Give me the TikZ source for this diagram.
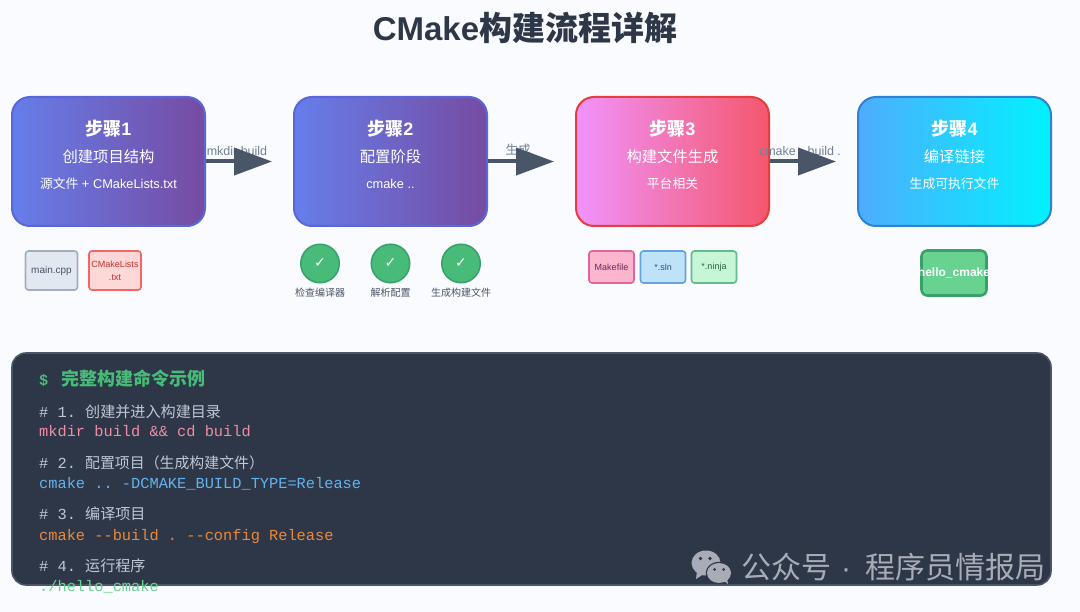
\documentclass[tikz,border=0pt]{standalone}
\usepackage{fontspec}
\setmainfont{Liberation Sans}
\setmonofont{Liberation Mono}
\newfontfamily\cjk{Noto Sans CJK SC}
\newfontfamily\ticks{DejaVu Sans}
\usetikzlibrary{arrows.meta, positioning}
\definecolor{pagebg}{HTML}{FAFBFE}
\definecolor{ink}{HTML}{2D3748}
\definecolor{slate}{HTML}{4A5568}
\definecolor{wmark}{HTML}{A8ACB6}
\tikzstyle{stepbox} = [rectangle, rounded corners=18pt, minimum width=193pt, minimum height=129pt, inner sep=0pt, line width=2pt]
\tikzstyle{filebox} = [rectangle, rounded corners=3pt, inner sep=0pt, line width=1.6pt, align=center]
\tikzstyle{arrow} = [line width=4pt, draw=slate, -{Triangle[length=38pt,width=27pt]}]
\tikzset{
	steptitle/.style={anchor=base, text=white, font=\fontsize{18}{22}\selectfont\bfseries},
	stepname/.style={anchor=base, text=white, font=\fontsize{15.3}{18}\selectfont},
	stepnote/.style={anchor=base, text=white, font=\fontsize{12.8}{15}\selectfont},
	arrowlabel/.style={text={rgb,255:red,113;green,128;blue,150}, font=\fontsize{12.5}{15}\selectfont},
	check/.style={circle, minimum size=38.5pt, inner sep=0pt, draw={rgb,255:red,56;green,161;blue,105}, line width=1.5pt, fill={rgb,255:red,72;green,187;blue,120}, text=white, font=\ticks\fontsize{14}{14}\selectfont},
	checklabel/.style={text=slate, font=\cjk\fontsize{10}{12}\selectfont},
	code/.style={anchor=base west, inner sep=0pt, font=\ttfamily\fontsize{15.33}{18}\selectfont}
}

\begin{document}
\begin{tikzpicture}[x=1pt, y=-1pt, node distance=282pt]
		
		% Page
		\fill [pagebg] (0,0) rectangle (1080,612);
		\useasboundingbox (0,0) rectangle (1080,612);
		\node (title) [anchor=base, text=ink, font=\fontsize{33}{38}\selectfont\bfseries] at (525,41) {CMake{\cjk 构建流程详解}};
		
		% Step boxes
		\node (step1) [stepbox, draw={rgb,255:red,90;green,103;blue,216}, left color={rgb,255:red,102;green,126;blue,234}, right color={rgb,255:red,118;green,75;blue,162}] at (108.5,161.5) {};
		\node (step2) [stepbox, draw={rgb,255:red,90;green,103;blue,216}, left color={rgb,255:red,102;green,126;blue,234}, right color={rgb,255:red,118;green,75;blue,162}, right of=step1] {};
		\node (step3) [stepbox, draw={rgb,255:red,229;green,62;blue,62}, left color={rgb,255:red,240;green,147;blue,251}, right color={rgb,255:red,245;green,87;blue,108}, right of=step2] {};
		\node (step4) [stepbox, draw={rgb,255:red,49;green,130;blue,206}, left color={rgb,255:red,79;green,172;blue,254}, right color={rgb,255:red,0;green,242;blue,254}, right of=step3] {};
		
		% Free ends of the arrows
		\coordinate (tip1) at (272,161.5);
		\coordinate (tip2) at (554,161.5);
		\coordinate (tip3) at (836,161.5);
		
		% Arrows with labels
		\node (label1) [arrowlabel] at (237,151) {mkdir build};
		\node (label2) [arrowlabel] at (518,150) {\cjk 生成};
		\node (label3) [arrowlabel] at (800,151) {cmake {-}{-}build .};
		\draw [arrow] (step1) -- (tip1);
		\draw [arrow] (step2) -- (tip2);
		\draw [arrow] (step3) -- (tip3);
		
		% Text in the step boxes
		\node (title1) [steptitle] at ([yshift=25.5pt]step1.center) {{\cjk 步骤}1};
		\node (name1) [stepname] at ([yshift=-1pt]step1.center) {\cjk 创建项目结构};
		\node (note1) [stepnote] at ([yshift=-27pt]step1.center) {{\cjk 源文件} + CMakeLists.txt};
		\node (title2) [steptitle] at ([yshift=25.5pt]step2.center) {{\cjk 步骤}2};
		\node (name2) [stepname] at ([yshift=-1pt]step2.center) {\cjk 配置阶段};
		\node (note2) [stepnote] at ([yshift=-27pt]step2.center) {cmake ..};
		\node (title3) [steptitle] at ([yshift=25.5pt]step3.center) {{\cjk 步骤}3};
		\node (name3) [stepname] at ([yshift=-1pt]step3.center) {\cjk 构建文件生成};
		\node (note3) [stepnote] at ([yshift=-27pt]step3.center) {\cjk 平台相关};
		\node (title4) [steptitle] at ([yshift=25.5pt]step4.center) {{\cjk 步骤}4};
		\node (name4) [stepname] at ([yshift=-1pt]step4.center) {\cjk 编译链接};
		\node (note4) [stepnote] at ([yshift=-27pt]step4.center) {\cjk 生成可执行文件};
		
		% Files under step 1
		\node (maincpp) [filebox, minimum width=52pt, minimum height=39pt, draw={rgb,255:red,160;green,174;blue,192}, fill={rgb,255:red,226;green,232;blue,240}, text=slate, font=\fontsize{10}{12}\selectfont] at (51.5,270.5) {\raisebox{-3pt}{main.cpp}};
		\node (cmakelists) [filebox, minimum width=52pt, minimum height=39pt, draw={rgb,255:red,245;green,101;blue,101}, fill={rgb,255:red,254;green,215;blue,215}, text={rgb,255:red,197;green,48;blue,48}, font=\fontsize{9}{13}\selectfont] at (115,270.5) {\raisebox{-2pt}{CMakeLists}\\\raisebox{-2pt}{.txt}};
		
		% Checks under step 2
		\node (check1) [check] at (320,263.5) {\raisebox{-3pt}{✓}};
		\node (check2) [check] at (390.5,263.5) {\raisebox{-3pt}{✓}};
		\node (check3) [check] at (461,263.5) {\raisebox{-3pt}{✓}};
		\node (checktext1) [checklabel] at (320,292.5) {检查编译器};
		\node (checktext2) [checklabel] at (390.5,292.5) {解析配置};
		\node (checktext3) [checklabel] at (461,292.5) {生成构建文件};
		
		% Generated files under step 3
		\node (makefile) [filebox, minimum width=45pt, minimum height=32pt, draw={rgb,255:red,225;green,100;blue,160}, fill={rgb,255:red,251;green,182;blue,206}, text={rgb,255:red,112;green,36;blue,89}, font=\fontsize{9}{11}\selectfont] at (611.5,267) {Makefile};
		\node (sln) [filebox, minimum width=45pt, minimum height=32pt, draw={rgb,255:red,99;green,163;blue,224}, fill={rgb,255:red,190;green,227;blue,248}, text={rgb,255:red,44;green,82;blue,130}, font=\fontsize{9}{11}\selectfont] at (663,267) {*.sln};
		\node (ninja) [filebox, minimum width=45pt, minimum height=32pt, draw={rgb,255:red,95;green,190;blue,140}, fill={rgb,255:red,198;green,246;blue,213}, text={rgb,255:red,39;green,103;blue,73}, font=\fontsize{9}{11}\selectfont] at (714,267) {*.ninja};
		
		% Result of step 4
		\node (hello) [filebox, rounded corners=6pt, minimum width=65pt, minimum height=45pt, line width=2.6pt, draw={rgb,255:red,56;green,161;blue,105}, fill={rgb,255:red,104;green,211;blue,145}, text=white, font=\fontsize{12}{14}\selectfont\bfseries] at (954,273) {\makebox[0pt]{hello\_cmake}};
		
		% Command panel
		\node (panel) [rectangle, rounded corners=14pt, minimum width=1039pt, minimum height=232pt, inner sep=0pt, line width=1.6pt, draw=slate, fill=ink] at (531.5,469) {};
		\node (heading) [code, text={rgb,255:red,72;green,187;blue,120}, font=\ttfamily\bfseries\fontsize{15.33}{18}\selectfont] at (39,386) {\$\hspace{4pt} {\cjk\fontsize{18}{20}\selectfont 完整构建命令示例}};
		\node (comment1) [code, text={rgb,255:red,190;green,199;blue,212}] at (39,417.5) {\# 1. {\cjk\fontsize{15.1}{18}\selectfont 创建并进入构建目录}};
		\node (command1) [code, text={rgb,255:red,240;green,140;blue,168}] at (39,437) {mkdir build \&\& cd build};
		\node (comment2) [code, text={rgb,255:red,190;green,199;blue,212}] at (39,468.5) {\# 2. {\cjk\fontsize{14.9}{18}\selectfont 配置项目（生成构建文件）}};
		\node (command2) [code, text={rgb,255:red,99;green,179;blue,237}] at (39,488.5) {cmake .. -DCMAKE\_BUILD\_TYPE=Release};
		\node (comment3) [code, text={rgb,255:red,190;green,199;blue,212}] at (39,519.5) {\# 3. {\cjk\fontsize{15.1}{18}\selectfont 编译项目}};
		\node (command3) [code, text={rgb,255:red,237;green,137;blue,54}] at (39,540) {cmake {-}{-}build . {-}{-}config Release};
		\node (comment4) [code, text={rgb,255:red,190;green,199;blue,212}] at (39,571) {\# 4. {\cjk\fontsize{15.1}{18}\selectfont 运行程序}};
		\node (command4) [code, text={rgb,255:red,104;green,211;blue,145}] at (39,591) {./hello\_cmake};
		
		% Watermark
		\fill [wmark] (706,563) ellipse [x radius=14.5, y radius=12.5];
		\fill [wmark] (697,571) -- (696,579) -- (704,574) -- cycle;
		\fill [ink, draw=ink, line width=1.5pt] (719,573) ellipse [x radius=12.5, y radius=10.5];
		\fill [wmark] (719,573) ellipse [x radius=12, y radius=10];
		\fill [wmark] (724,581) -- (728,584) -- (727,578) -- cycle;
		\fill [ink] (700.5,558.5) circle (1.8);
		\fill [ink] (710,558.5) circle (1.8);
		\fill [ink] (714.5,569.5) circle (1.5);
		\fill [ink] (723.5,569.5) circle (1.5);
		\node (wechat) [anchor=base west, inner sep=0pt, text=wmark, font=\cjk\fontsize{30}{34}\selectfont] at (741,578) {公众号\hspace{10pt}{\rmfamily ·}\hspace{14pt}程序员情报局};
		
	\end{tikzpicture}
\end{document}
